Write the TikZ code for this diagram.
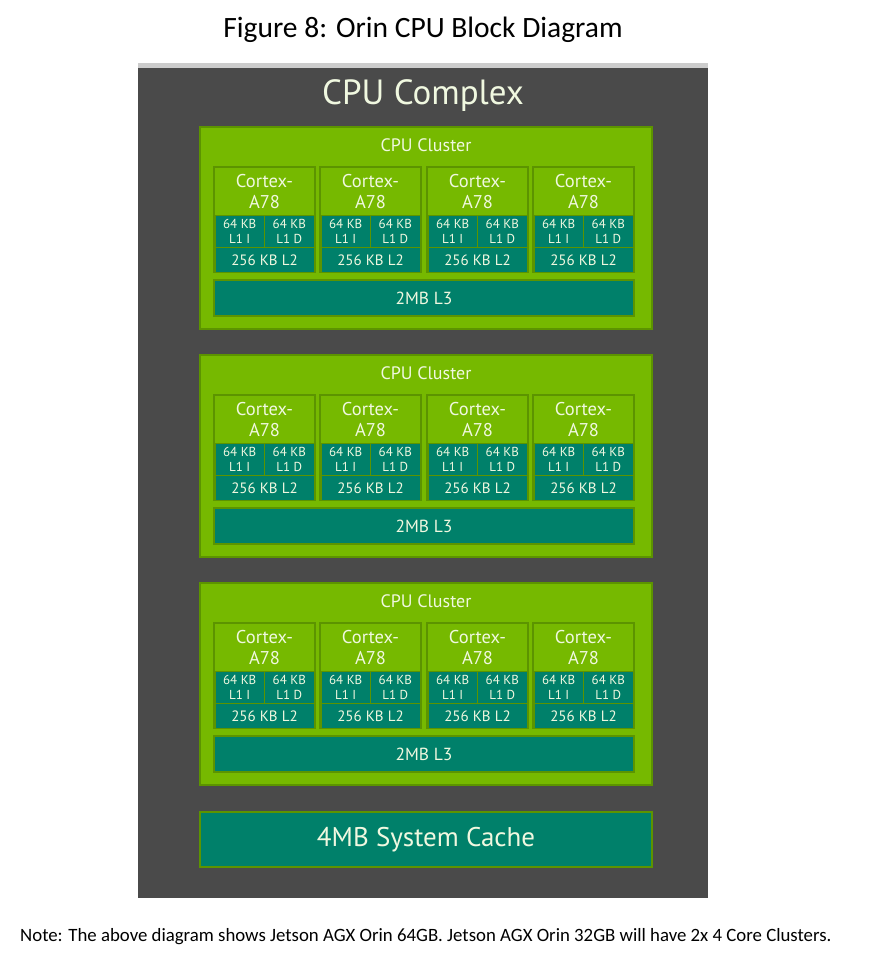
\documentclass[tikz,border=0pt]{standalone}
\usepackage{fontspec}
\setmainfont{Carlito}
\newfontfamily\dia{PT Sans}
\definecolor{dgray}{HTML}{4A4A4A}
\definecolor{nvg}{HTML}{76B900}
\definecolor{nvgb}{HTML}{5C9400}
\definecolor{teal}{HTML}{00806A}
\definecolor{txt}{HTML}{F0F8E0}
\begin{document}
\begin{tikzpicture}[x=1pt,y=-1pt,
  cl/.style={draw=nvgb,line width=2.5pt,fill=nvg},
  core/.style={draw=nvgb,line width=1.2pt,fill=nvg},
  tl/.style={fill=teal,draw=nvgb,line width=0.8pt},
  t/.style={text=txt,font=\dia,inner sep=0pt,align=center}]
\useasboundingbox (0,0) rectangle (876,978);
\fill[white] (0,0) rectangle (876,978);
\node[font=\fontsize{29.5}{34}\selectfont,inner sep=0] (title) at (423,30) {Figure 8: Orin CPU Block Diagram};
\fill[gray!40] (138,63) rectangle (708,68);
\fill[dgray] (138,68) rectangle (708,898);
\node[t,font=\dia\fontsize{35}{40}\selectfont] (cpx) at (423,96) {CPU Complex};
\foreach \k in {0,1,2}{
  \pgfmathsetmacro{\oy}{127+228*\k}
  \begin{scope}[yshift={-\oy pt}]
  \draw[cl] (200,0) rectangle (652,202);
  \node[t,font=\dia\fontsize{18}{20}\selectfont] (cc\k) at (426,18) {CPU Cluster};
  \foreach \i/\cx in {0/214,1/320,2/427,3/533}{
    \draw[core] (\cx,40) rectangle ++(101,105);
    \node[t,font=\dia\fontsize{18.5}{21}\selectfont] (c\k\i) at (\cx+50.5,65) {Cortex-\\A78};
    \draw[tl] (\cx+1,88) rectangle ++(49.5,32);
    \draw[tl] (\cx+50.5,88) rectangle ++(49.5,32);
    \draw[tl] (\cx+1,120) rectangle ++(99,25);
    \node[t,font=\dia\fontsize{13}{15}\selectfont] (li\k\i) at (\cx+25.7,104) {64 KB\\L1 I};
    \node[t,font=\dia\fontsize{13}{15}\selectfont] (ld\k\i) at (\cx+75.3,104) {64 KB\\L1 D};
    \node[t,font=\dia\fontsize{15}{17}\selectfont] (l2\k\i) at (\cx+50.5,133) {256 KB L2};
  }
  \draw[tl,line width=1.2pt] (214,153) rectangle (634,189);
  \node[t,font=\dia\fontsize{17.5}{20}\selectfont] (l3\k) at (424,171) {2MB L3};
  \end{scope}
}
\draw[tl,line width=2.5pt,draw=nvgb] (200,812) rectangle (652,867);
\node[t,font=\dia\fontsize{27}{30}\selectfont] (sc) at (426,840) {4MB System Cache};
\node[anchor=west,font=\fontsize{18.8}{22}\selectfont,inner sep=0] (note) at (20,937) {Note: The above diagram shows Jetson AGX Orin 64GB. Jetson AGX Orin 32GB will have 2x 4 Core Clusters.};
\end{tikzpicture}
\end{document}
